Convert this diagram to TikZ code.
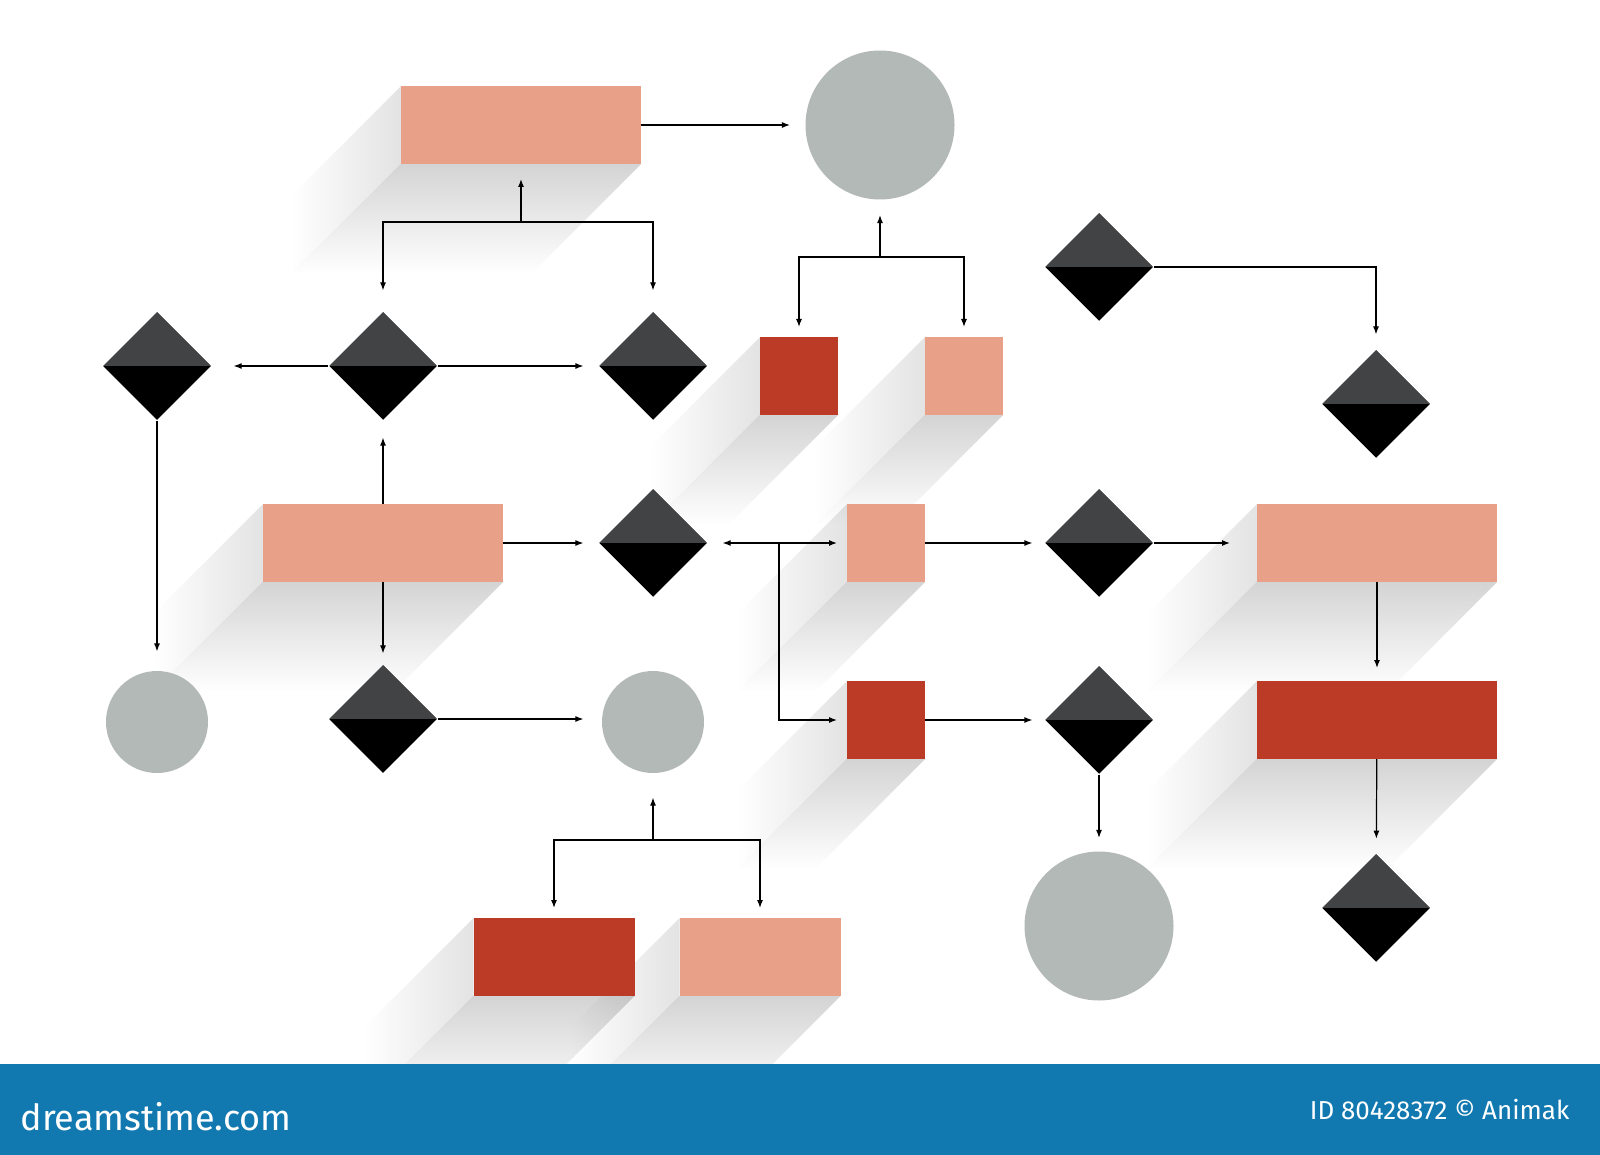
\documentclass[tikz,border=0pt]{standalone}
\usepackage{fontspec}
\setmainfont{Fira Sans}
\usetikzlibrary{shapes.geometric,arrows.meta,backgrounds}
\tikzset{
every picture/.style={
line width=1.2pt
}}
\definecolor{salmon}{RGB}{232,160,136}
\definecolor{brick}{RGB}{187,59,38}
\definecolor{stone}{RGB}{179,185,182}
\definecolor{slate}{RGB}{66,67,69}
\definecolor{barblue}{RGB}{17,120,176}

\begin{document}
\begin{tikzpicture}[x=1pt, y=-1pt, >={Latex[length=8pt,width=6pt]},
box/.style = {rectangle, inner sep=0pt, outer sep=0pt, minimum width=240pt, minimum height=78pt},
sq/.style = {rectangle, inner sep=0pt, outer sep=0pt, minimum size=78pt},
lite/.style = {fill=salmon},
dark/.style = {fill=brick},
dec/.style = {diamond, inner sep=0pt, minimum width=108pt, minimum height=108pt, fill=black,
  path picture={\fill[slate] (path picture bounding box.north west) rectangle (path picture bounding box.east);}},
disc/.style = {circle, inner sep=0pt, fill=stone},
link/.style = {->, shorten >=15pt},
dropbelow/.style = {top color=black!17, bottom color=white, blend mode=multiply},
dropleft/.style = {right color=black!11, left color=white, blend mode=multiply}]
\useasboundingbox (0,0) rectangle (1600,1155);

% row 1
\node[box, lite] (r1) at (521,125) {};
\node[disc, minimum size=149pt] (c1) at (880,125) {};
\node[dec] (d4) at (1099,267) {};

% row 2
\node[dec] (d1) at (157,366) {};
\node[dec] (d2) at (383,366) {};
\node[dec] (d3) at (653,366) {};
\node[sq, dark] (s1) at (799,376) {};
\node[sq, lite] (s2) at (964,376) {};
\node[dec] (d5) at (1376,404) {};

% row 3
\node[box, lite] (r2) at (383,543) {};
\node[dec] (d6) at (653,543) {};
\node[sq, lite] (s3) at (886,543) {};
\node[dec] (d7) at (1099,543) {};
\node[box, lite] (r3) at (1377,543) {};

% row 4
\node[disc, minimum size=102pt] (c2) at (157,722) {};
\node[dec] (d9) at (383,719) {};
\node[disc, minimum size=102pt] (c3) at (653,722) {};
\node[sq, dark] (s4) at (886,720) {};
\node[dec] (d10) at (1099,720) {};
\node[box, dark] (r4) at (1377,720) {};

% row 5
\node[box, dark, minimum width=161pt] (r5) at (554,957) {};
\node[box, lite, minimum width=161pt] (r6) at (760,957) {};
\node[disc, minimum size=149pt] (c4) at (1099,926) {};
\node[dec] (d8) at (1376,908) {};

% long shadows
\begin{scope}[on background layer]
\fill[white] (0,0) rectangle (1600,1155);
\foreach \n in {r1,s1,s2,r2,s3,s4,r3,r4,r5,r6} {
  \shade[dropbelow] (\n.south west) -- (\n.south east) -- ++(-110,110) -- ([shift={(-110,110)}]\n.south west) -- cycle;
  \shade[dropleft] (\n.north west) -- (\n.south west) -- ++(-110,110) -- ([shift={(-110,110)}]\n.north west) -- cycle;
}
\end{scope}

\coordinate (j1) at (521,222);
\coordinate (j2) at (880,257);
\coordinate (j3) at (779,543);
\coordinate (j4) at (653,840);

\draw[link] (r1) -- (c1);
\draw[link] (j1) -- (r1);
\draw[link, shorten >=21pt] (j1) -| (d2);
\draw[link, shorten >=21pt] (j1) -| (d3);
\draw[link] (j2) -- (c1);
\draw[link, shorten >=10pt] (j2) -| (s1);
\draw[link, shorten >=10pt] (j2) -| (s2);
\draw[link] (d4) -| (d5);
\draw[link, shorten >=22pt] (d2) -- (d1);
\draw[link] (d2) -- (d3);

\draw[link, shorten >=17pt] (r2) -- (d2);
\draw[link] (r2) -- (d6);
\draw[link] (j3) -- (d6);
\draw[link, shorten >=10pt] (j3) -- (s3);
\draw[link, shorten >=10pt] (j3) |- (s4);
\draw[link, shorten >=12pt] (s3) -- (d7);
\draw[link, shorten >=27pt] (d7) -- (r3);
\draw[link, shorten >=13pt] (r3) -- (r4);
\draw[link] (r4) -- (d8);

\draw[link, shorten >=19pt] (d1) -- (c2);
\draw[link, shorten >=11pt] (r2) -- (d9);
\draw[link, shorten >=18pt] (d9.east) -- (c3.west |- d9.east);
\draw[link, shorten >=24pt] (j4) -- (c3);
\draw[link, shorten >=10pt] (j4) -| (r5);
\draw[link, shorten >=10pt] (j4) -| (r6);
\draw[link, shorten >=12pt] (s4) -- (d10);
\draw[link, shorten >=13pt] (d10) -- (c4);

% footer bar
\fill[barblue] (0,1064) rectangle (1600,1155);
\node[white, inner sep=0pt, anchor=west, font=\fontsize{36}{42}\selectfont] (site) at (20,1117) {dreamstime.com};
\node[white, inner sep=0pt, anchor=east, font=\fontsize{26}{30}\selectfont] (credit) at (1570,1110) {ID 80428372 © Animak};
\end{tikzpicture}
\end{document}
